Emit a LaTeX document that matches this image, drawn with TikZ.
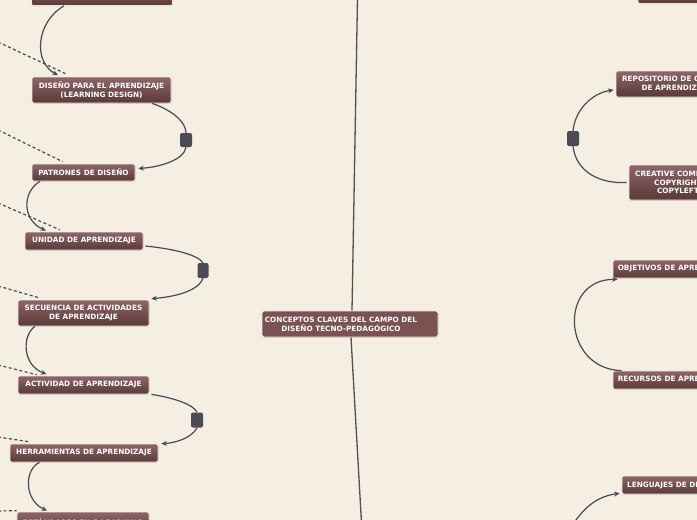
\documentclass[tikz,border=0pt]{standalone}
\usepackage{fontspec}
\setmainfont{DejaVu Sans}
\usetikzlibrary{arrows.meta,shadows}
\definecolor{bg}{HTML}{F4EEE3}
\definecolor{boxtop}{HTML}{8E6666}
\definecolor{boxbot}{HTML}{5A3939}
\definecolor{boxedge}{HTML}{F2E6E0}
\definecolor{ctrfill}{HTML}{7B5252}
\definecolor{conn}{HTML}{4A4A50}
\definecolor{sqfill}{HTML}{4B4C53}
\definecolor{trunk}{HTML}{505055}
\begin{document}
\begin{tikzpicture}[x=1pt,y=-1pt,
  box/.style={rounded corners=2pt, top color=boxtop, bottom color=boxbot,
    draw=boxedge, line width=0.7pt, text=white, align=center, inner sep=0pt,
    font=\bfseries\fontsize{7.3}{8.8}\selectfont,
    drop shadow={opacity=0.25, shadow xshift=0.6pt, shadow yshift=-0.8pt}},
  ctrbox/.style={rounded corners=2.5pt, fill=ctrfill, draw=boxedge, line width=0.7pt,
    inner sep=0pt, drop shadow={opacity=0.25, shadow xshift=0.6pt, shadow yshift=-0.8pt}},
  ctrtext/.style={text=white, align=center, inner sep=0pt,
    font=\bfseries\fontsize{7.3}{8.8}\selectfont},
  sq/.style={rounded corners=2pt, fill=sqfill, draw=none, inner sep=0pt},
  link/.style={draw=conn, line width=1.2pt},
  arr/.style={link, -{Stealth[length=5.5pt,width=5pt]}},
  dashlink/.style={draw=conn, line width=1.2pt, dash pattern=on 3pt off 2.5pt},
  trunkline/.style={draw=trunk, line width=1.3pt}
]
\useasboundingbox (0,0) rectangle (697,520);
\clip (0,0) rectangle (697,520);
\fill[bg] (0,0) rectangle (697,520);

% trunk
\coordinate (vt) at (357.5,-2);
\coordinate (vb) at (361.5,523);

% left column nodes
\node[box, minimum width=141pt, minimum height=20pt] (tl) at (102,-4.5) {};
\node[box, minimum width=139pt, minimum height=26pt] (dpa) at (101.5,90) {DISEÑO PARA EL APRENDIZAJE\\(LEARNING DESIGN)};
\node[box, minimum width=103pt, minimum height=17pt] (pat) at (83.5,172.5) {PATRONES DE DISEÑO};
\node[box, minimum width=118pt, minimum height=18pt] (uni) at (84,241) {UNIDAD DE APRENDIZAJE};
\node[box, minimum width=131pt, minimum height=26pt] (sec) at (83.5,313) {SECUENCIA DE ACTIVIDADES\\DE APRENDIZAJE};
\node[box, minimum width=131pt, minimum height=18pt] (act) at (83.5,385) {ACTIVIDAD DE APRENDIZAJE};
\node[box, minimum width=148pt, minimum height=18pt] (her) at (84,453) {HERRAMIENTAS DE APRENDIZAJE};
\node[box, minimum width=132pt, minimum height=20pt] (est) at (83,522) {ESTÁNDARES EN E-LEARNING};

% centre
\node[ctrbox, minimum width=176pt, minimum height=26pt] (ctr) at (350,324) {};
\node[ctrtext] (ctrt) at (341,324) {CONCEPTOS CLAVES DEL CAMPO DEL\\DISEÑO TECNO-PEDAGÓGICO};

% right column nodes
\node[box, minimum width=74pt, minimum height=20pt] (tr) at (675,-6.5) {};
\node[box, minimum width=120pt, minimum height=26pt] (rep) at (676,84) {REPOSITORIO DE OBJETOS\\DE APRENDIZAJE};
\node[box, minimum width=98pt, minimum height=35pt] (cc) at (678,182.5) {CREATIVE COMMONS\\COPYRIGHT\\COPYLEFT};
\node[box, minimum width=125pt, minimum height=18pt] (obj) at (675.5,269) {OBJETIVOS DE APRENDIZAJE};
\node[box, minimum width=125pt, minimum height=18pt] (rec) at (675.5,380) {RECURSOS DE APRENDIZAJE};
\node[box, minimum width=104pt, minimum height=18pt] (len) at (674,485) {LENGUAJES DE DISEÑO};

% squares
\node[sq, minimum width=12pt, minimum height=14pt] (sq1) at (186,140) {};
\node[sq, minimum width=11pt, minimum height=15pt] (sq2) at (203,270.5) {};
\node[sq, minimum width=12pt, minimum height=15pt] (sq3) at (197,420) {};
\node[sq, minimum width=12pt, minimum height=15pt] (sq4) at (573,138.5) {};

% trunk lines
\draw[trunkline] (vt) -- ([xshift=2pt]ctr.north);
\draw[trunkline] ([xshift=1pt]ctr.south) -- (vb);

% dashed lines from the left
\coordinate (d1) at (-2,42);
\coordinate (d2) at (-2,130);
\coordinate (d3) at (-2,203);
\coordinate (d4) at (-2,286);
\coordinate (d5) at (-2,365);
\coordinate (d6) at (-2,437);
\coordinate (d7) at (-2,511);
\draw[dashlink] (d1) -- ([xshift=36pt,yshift=2pt]dpa.north west);
\draw[dashlink] (d2) -- ([xshift=31pt,yshift=2pt]pat.north west);
\draw[dashlink] (d3) -- ([xshift=35pt,yshift=2pt]uni.north west);
\draw[dashlink] (d4) -- ([xshift=21pt,yshift=2pt]sec.north west);
\draw[dashlink] (d5) -- ([xshift=19pt,yshift=1pt]act.north west);
\draw[dashlink] (d6) -- ([xshift=19pt,yshift=2pt]her.north west);
\draw[dashlink] (d7) -- ([yshift=1pt]est.north west);

% left connectors
\draw[arr] ([xshift=-38pt]tl.south) .. controls (36,22) and (33,62) .. ([xshift=-43.5pt,yshift=1.5pt]dpa.north);
\draw[link] ([xshift=50.5pt]dpa.south) .. controls (172,110) and (186,122) .. (sq1.north);
\draw[arr] (sq1.south) .. controls (184,160) and (160,167) .. ([xshift=3pt,yshift=4pt]pat.east);
\draw[arr] ([xshift=-43.5pt]pat.south) .. controls (22,192) and (22,220) .. ([xshift=-38pt,yshift=1pt]uni.north);
\draw[link] ([xshift=2pt,yshift=-5pt]uni.east) .. controls (175,249) and (198,255) .. (sq2.north);
\draw[arr] (sq2.south) .. controls (198,292) and (172,297) .. ([xshift=2pt,yshift=1pt]sec.north east);
\draw[arr] ([xshift=-48.5pt]sec.south) .. controls (22,335) and (22,365) .. ([xshift=-37pt,yshift=1.5pt]act.north);
\draw[link] ([xshift=2pt]act.south east) .. controls (175,398) and (194,405) .. (sq3.north);
\draw[arr] (sq3.south) .. controls (192,438) and (175,443) .. ([xshift=3pt]her.north east);
\draw[arr] ([xshift=-44.5pt]her.south) .. controls (24,470) and (24,500) .. ([xshift=-36pt,yshift=1pt]est.north);

% right connectors
\draw[link] ([xshift=-2pt]cc.west) .. controls (600,184) and (576,172) .. (sq4.south);
\draw[arr] (sq4.north) .. controls (575,110) and (592,93) .. ([xshift=-2pt,yshift=-6pt]rep.west);
\draw[arr] ([xshift=9pt]rec.north west) .. controls (562,369) and (558,279) .. ([xshift=5pt,yshift=-1pt]obj.south west);
\coordinate (lsrc) at (557,560);
\draw[arr] (lsrc) .. controls (572,515) and (592,497) .. ([xshift=-2pt,yshift=1pt]len.south west);
\end{tikzpicture}
\end{document}
